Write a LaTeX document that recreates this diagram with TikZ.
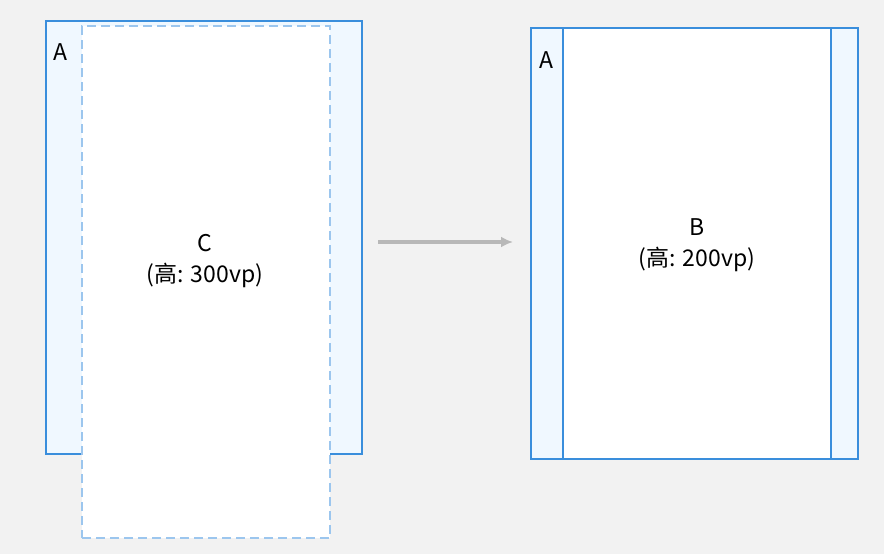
\documentclass[tikz,border=0pt]{standalone}
\usepackage{fontspec}
\usetikzlibrary{arrows.meta}
\setmainfont{Noto Sans CJK SC}
\begin{document}
\begin{tikzpicture}[x=1pt,y=-1pt,
  lbl/.style={font=\fontsize{23}{31}\selectfont, align=center, text=black},
  ]
\definecolor{aliceblue}{HTML}{F0F8FF}
\definecolor{bg}{HTML}{F2F2F2}
\definecolor{bl}{HTML}{3A8EDC}
\definecolor{dl}{HTML}{9CC6EE}
\fill[bg] (0,0) rectangle (884,554);
\useasboundingbox (0,0) rectangle (884,554);
% left
\node[draw=bl, line width=2pt, fill=aliceblue, minimum width=316, minimum height=433, anchor=north west, inner sep=0] (A1) at (45,20) {};
\node[draw=dl, dash pattern=on 9pt off 5pt, line width=2.4pt, fill=white, minimum width=248, minimum height=512, anchor=north west, inner sep=0] (C) at (81,25) {};
\node[lbl] (tA1) at (60,52) {A};
\node[lbl] (tC) at (205,261) {C\\(高: 300vp)};
% right
\node[draw=bl, line width=2pt, fill=aliceblue, minimum width=327, minimum height=431, anchor=north west, inner sep=0] (A2) at (530,27) {};
\node[draw=bl, line width=2pt, fill=white, minimum width=268, minimum height=431, anchor=north west, inner sep=0] (B) at (562,27) {};
\node[lbl] (tA2) at (546,60) {A};
\node[lbl] (tB) at (697,245) {B\\(高: 200vp)};
% arrow
\coordinate (s) at (378,242);
\coordinate (e) at (513,242);
\draw[draw=black!28, line width=3.5pt, -{Latex[length=12pt,width=11pt]}] (s) -- (e);
\end{tikzpicture}
\end{document}
